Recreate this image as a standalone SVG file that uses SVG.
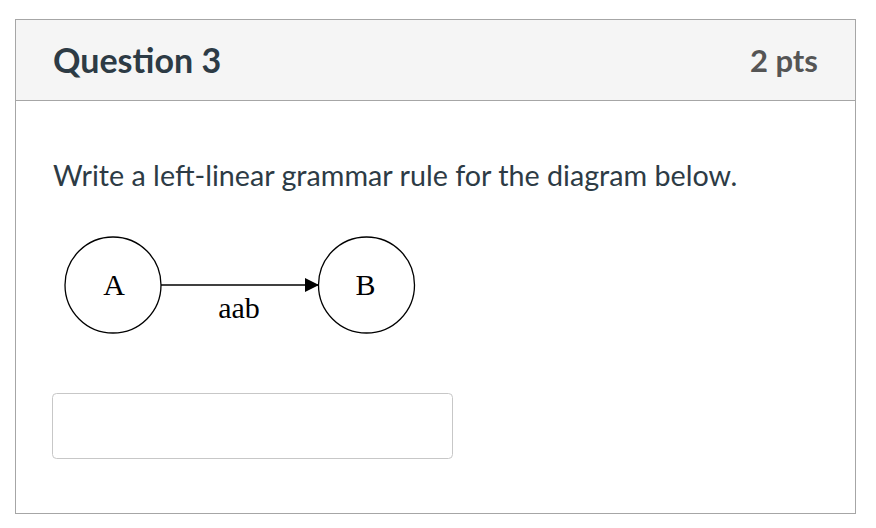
<svg xmlns="http://www.w3.org/2000/svg" width="876" height="528" viewBox="0 0 876 528">
<style>
.ui{font-family:Lato,"Open Sans","Liberation Sans",sans-serif}
.h{font-size:34px;font-weight:700;fill:#2D3B45}
.pts{font-size:31px;font-weight:700;fill:#555555}
.body{font-size:28.7px;fill:#2D3B45}
.node{fill:#ffffff;stroke:#000000;stroke-width:1.3}
.lbl{font-family:"Liberation Serif","Times New Roman",serif;font-size:30px;fill:#000000;text-anchor:middle}
.edge{stroke:#000000;stroke-width:1.3;fill:none}
</style>
<defs>
<marker id="arr" markerUnits="userSpaceOnUse" markerWidth="16" markerHeight="16" refX="14" refY="7" orient="auto">
<path d="M0,0 L14,7 L0,14 Z" fill="#000000"/>
</marker>
</defs>
<rect x="0" y="0" width="876" height="528" fill="#ffffff"/>
<g id="panel">
<rect x="15.5" y="19.5" width="840" height="494" fill="#ffffff" stroke="#A6A6A6" stroke-width="1"/>
<rect x="16" y="20" width="839" height="80" fill="#F5F5F5"/>
<line x1="15.5" y1="100.5" x2="855.5" y2="100.5" stroke="#A6A6A6" stroke-width="1"/>
<text class="ui h" x="53" y="73">Question 3</text>
<text class="ui pts" x="818" y="72" text-anchor="end">2 pts</text>
<text class="ui body" x="53" y="186">Write a left-linear grammar rule for the diagram below.</text>
<rect x="52.5" y="393.5" width="400" height="65" rx="4" fill="#ffffff" stroke="#C7C7C7" stroke-width="1"/>
</g>
<g id="connectors">
<line class="edge" x1="161" y1="285" x2="319" y2="285" marker-end="url(#arr)"/>
<text class="lbl" x="239" y="318">aab</text>
</g>
<g id="node-A">
<circle class="node" cx="113" cy="285" r="48"/>
<text class="lbl" x="114" y="295">A</text>
</g>
<g id="node-B">
<circle class="node" cx="366.5" cy="285" r="48"/>
<text class="lbl" x="365.5" y="295">B</text>
</g>
</svg>
